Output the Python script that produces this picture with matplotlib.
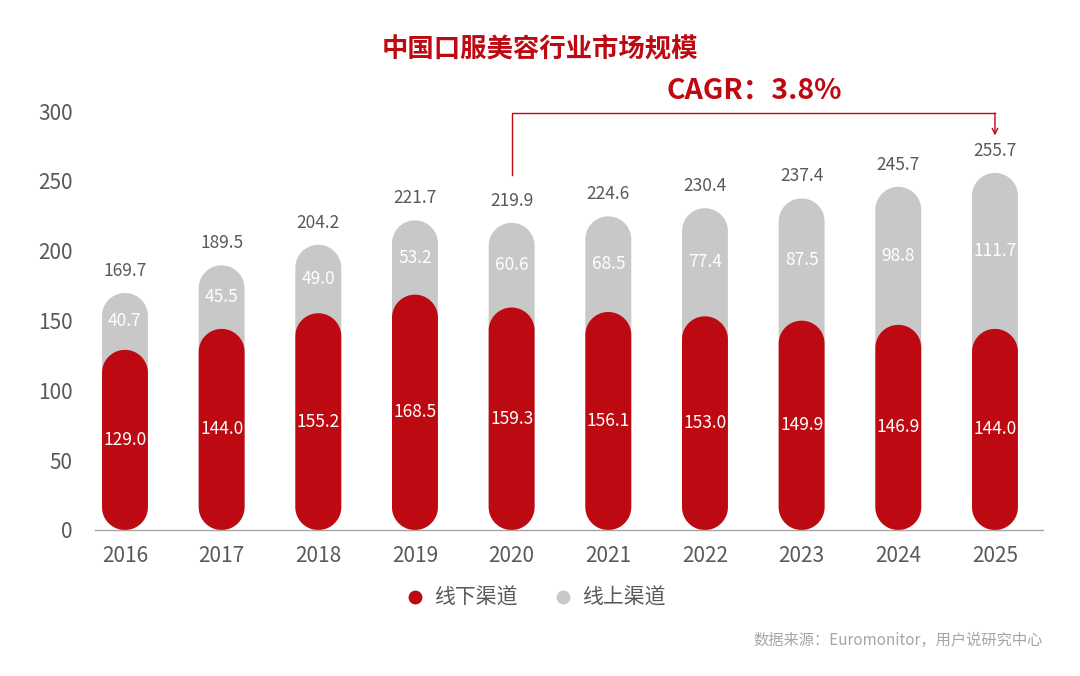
import numpy as np
import matplotlib.pyplot as plt
from matplotlib.path import Path
from matplotlib.patches import PathPatch
from matplotlib.lines import Line2D

plt.rcParams['font.family'] = ['Noto Sans CJK SC', 'DejaVu Sans']

# 数据
years = ['2016', '2017', '2018', '2019', '2020', '2021', '2022', '2023', '2024', '2025']
offline = [129.0, 144.0, 155.2, 168.5, 159.3, 156.1, 153.0, 149.9, 146.9, 144.0]
online = [40.7, 45.5, 49.0, 53.2, 60.6, 68.5, 77.4, 87.5, 98.8, 111.7]
totals = [169.7, 189.5, 204.2, 221.7, 219.9, 224.6, 230.4, 237.4, 245.7, 255.7]
series_names = ['线下渠道', '线上渠道']
cagr_text = 'CAGR：3.8%'

RED = '#bd0a12'
GRAY = '#c8c8c8'
TXT = '#595959'

fig = plt.figure(figsize=(10.8, 6.76), dpi=100)
ax = fig.add_axes([95 / 1080, 146 / 676, 948 / 1080, 419 / 676])
ax.set_xlim(-0.31, 9.497)
ax.set_ylim(0, 300)

bar_w = 0.475
# 把半宽换算成 y 单位, 让两端是正圆
p0 = ax.transData.transform((0, 0))
p1 = ax.transData.transform((1, 1))
sx, sy = p1 - p0
r_y = (bar_w / 2) * sx / sy


def pill(xc, top, color):
    t = np.linspace(0, np.pi, 40)
    hw = bar_w / 2
    top_arc = np.column_stack([xc + hw * np.cos(t), top - r_y + r_y * np.sin(t)])
    bot_arc = np.column_stack([xc - hw * np.cos(t), r_y - r_y * np.sin(t)])
    verts = np.vstack([top_arc, bot_arc, top_arc[:1]])
    codes = [Path.MOVETO] + [Path.LINETO] * (len(verts) - 2) + [Path.CLOSEPOLY]
    ax.add_patch(PathPatch(Path(verts, codes), fc=color, ec='none', zorder=2))


x = np.arange(len(years))
for i in x:
    pill(i, totals[i], GRAY)
    pill(i, offline[i], RED)
    ax.text(i, offline[i] / 2, f'{offline[i]:.1f}', ha='center', va='center',
            color='white', fontsize=12.5, zorder=3)
    ax.text(i, offline[i] + online[i] / 2, f'{online[i]:.1f}', ha='center', va='center',
            color='white', fontsize=12.5, zorder=3)
    ax.annotate(f'{totals[i]:.1f}', (i, totals[i]), xytext=(0, 16), textcoords='offset points',
                ha='center', va='center', color=TXT, fontsize=12.5)

# 坐标轴
ax.set_xticks(x)
ax.set_xticklabels(years)
ax.set_yticks(range(0, 301, 50))
ax.tick_params(axis='both', length=0, labelsize=15, labelcolor=TXT)
ax.tick_params(axis='y', pad=16)
ax.tick_params(axis='x', pad=11)
for s in ['left', 'right', 'top']:
    ax.spines[s].set_visible(False)
ax.spines['bottom'].set_color('#a6a6a6')
ax.spines['bottom'].set_linewidth(1)

# CAGR 标注
ax.plot([4, 4, 9], [254, 298.5, 298.5], color=RED, lw=1, clip_on=False)
ax.annotate('', xy=(9, 282.5), xytext=(9, 298.5),
            arrowprops=dict(arrowstyle='->', color=RED, lw=1, shrinkA=0, shrinkB=0),
            annotation_clip=False)
fig.text(754 / 1080, 1 - 91 / 676, cagr_text, ha='center', va='center', color=RED,
         fontsize=20.5, weight='heavy')

# 标题
fig.text(540 / 1080, 1 - 50 / 676, '中国口服美容行业市场规模', ha='center', va='center',
         fontsize=19, weight='heavy', color=RED)

# 图例
handles = [Line2D([], [], ls='none', marker='o', ms=10, mfc=RED, mec='none'),
           Line2D([], [], ls='none', marker='o', ms=10, mfc=GRAY, mec='none')]
fig.legend(handles, series_names, loc='center', bbox_to_anchor=(535 / 1080, 1 - 598 / 676),
           ncol=2, frameon=False, fontsize=15, labelcolor=TXT, handlelength=1.0,
           handletextpad=0.4, columnspacing=1.7)

fig.text(1043 / 1080, 1 - 640 / 676, '数据来源：Euromonitor，用户说研究中心', ha='right',
         va='center', fontsize=11, color='#a6a6a6')

fig.savefig('out.png', dpi=100)
